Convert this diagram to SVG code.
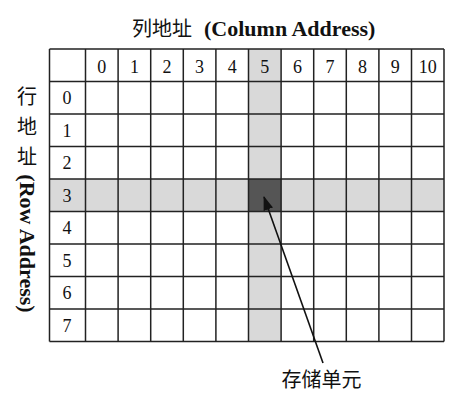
<svg xmlns="http://www.w3.org/2000/svg" width="474" height="404" viewBox="0 0 474 404">
<style>
.grid{stroke:#222;stroke-width:1.5;fill:none}
.num{font-family:"Liberation Serif",serif;font-size:18px;fill:#111;text-anchor:middle}
.cjk{font-family:"Liberation Serif","Noto Sans CJK SC",serif;font-size:20px;fill:#111}
.bold{font-family:"Liberation Serif",serif;font-size:22px;font-weight:bold;fill:#111}
</style>
<defs>
<marker id="ah" markerWidth="14" markerHeight="10" refX="13" refY="5" orient="auto" markerUnits="userSpaceOnUse">
<path d="M0,0 L14,5 L0,10 Z" fill="#111"/>
</marker>
</defs>
<rect width="474" height="404" fill="#fff"/>
<g id="title">
<text class="cjk" x="132" y="36">列地址</text>
<text class="bold" x="204" y="36">(Column Address)</text>
</g>
<g id="row-title">
<text class="cjk" x="27" y="104" text-anchor="middle">行</text>
<text class="cjk" x="27" y="134" text-anchor="middle">地</text>
<text class="cjk" x="27" y="164" text-anchor="middle">址</text>
<text class="bold" transform="translate(20,243.5) rotate(90)" text-anchor="middle">(Row Address)</text>
</g>
<g id="highlights">
<rect x="248.5" y="49" width="32.6" height="292.5" fill="#d9d9d9"/>
<rect x="49.5" y="179" width="394.5" height="32.5" fill="#d9d9d9"/>
<rect id="cell" x="248.5" y="179" width="32.6" height="32.5" fill="#555"/>
</g>
<g id="grid" class="grid">
<path d="M49.5,49H444M49.5,81.5H444M49.5,114H444M49.5,146.5H444M49.5,179H444M49.5,211.5H444M49.5,244H444M49.5,276.5H444M49.5,309H444M49.5,341.5H444"/>
<path d="M49.5,49V341.5M85.5,49V341.5M118.1,49V341.5M150.7,49V341.5M183.3,49V341.5M215.9,49V341.5M248.5,49V341.5M281.1,49V341.5M313.7,49V341.5M346.3,49V341.5M378.9,49V341.5M411.5,49V341.5M444,49V341.5"/>
</g>
<g id="col-labels">
<text class="num" x="101.8" y="72.5">0</text>
<text class="num" x="134.4" y="72.5">1</text>
<text class="num" x="167" y="72.5">2</text>
<text class="num" x="199.6" y="72.5">3</text>
<text class="num" x="232.2" y="72.5">4</text>
<text class="num" x="264.8" y="72.5">5</text>
<text class="num" x="297.4" y="72.5">6</text>
<text class="num" x="330" y="72.5">7</text>
<text class="num" x="362.6" y="72.5">8</text>
<text class="num" x="395.2" y="72.5">9</text>
<text class="num" x="427.8" y="72.5">10</text>
</g>
<g id="row-labels">
<text class="num" x="67" y="104">0</text>
<text class="num" x="67" y="136.5">1</text>
<text class="num" x="67" y="169">2</text>
<text class="num" x="67" y="201.5">3</text>
<text class="num" x="67" y="234">4</text>
<text class="num" x="67" y="266.5">5</text>
<text class="num" x="67" y="299">6</text>
<text class="num" x="67" y="331.5">7</text>
</g>
<g id="connectors">
<line x1="323" y1="363" x2="264" y2="197" stroke="#111" stroke-width="1.6" marker-end="url(#ah)"/>
</g>
<g id="label">
<text class="cjk" x="321.5" y="387" text-anchor="middle">存储单元</text>
</g>
</svg>
